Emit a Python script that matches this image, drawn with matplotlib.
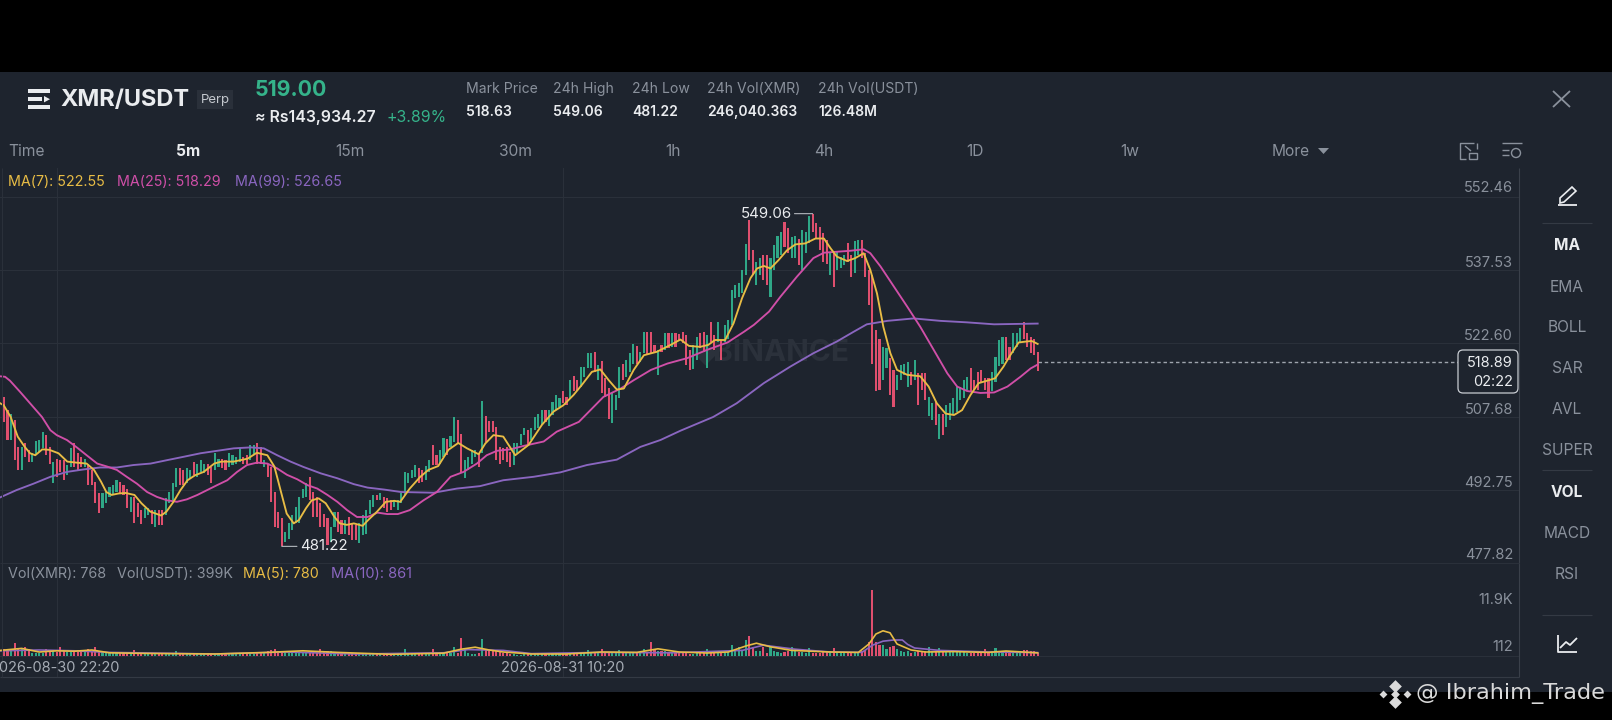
import matplotlib
matplotlib.use("Agg")
import matplotlib.pyplot as plt
from matplotlib.patches import FancyBboxPatch, Polygon, Rectangle
import numpy as np

plt.rcParams["font.family"] = ["Inter", "DejaVu Sans"]

# ==========================
# Candles, 5m
# ==========================

candle_high = [
    511.7, 509.0, 508.3, 507.0, 501.5, 501.5, 502.2, 500.9, 500.2, 502.6,
    502.9, 504.6, 503.9, 501.5, 498.5, 499.1, 498.8, 498.8, 497.8, 501.2,
    502.2, 500.2, 499.5, 499.1, 498.1, 496.8, 494.4, 492.0, 492.0, 492.3,
    493.4, 493.7, 494.7, 494.4, 493.7, 493.0, 491.3, 491.3, 490.0, 488.6,
    489.0, 489.0, 488.6, 488.6, 488.6, 488.6, 491.0, 492.3, 494.1, 497.1,
    497.1, 496.8, 497.1, 496.8, 498.5, 498.1, 498.8, 498.1, 498.1, 497.5,
    500.2, 499.1, 499.1, 498.8, 500.2, 499.8, 499.5, 501.2, 499.5, 499.8,
    501.9, 501.9, 502.2, 501.5, 498.8, 498.1, 497.5, 492.3, 488.3, 486.9,
    484.2, 485.9, 487.6, 489.3, 491.3, 493.0, 494.1, 495.3, 492.3, 491.3,
    490.0, 487.9, 486.9, 485.2, 488.3, 488.3, 486.6, 486.6, 487.2, 485.9,
    485.6, 485.9, 487.6, 488.6, 490.6, 491.7, 491.7, 492.0, 491.3, 491.0,
    490.6, 490.6, 490.6, 492.0, 496.4, 496.1, 496.8, 497.8, 497.1,
    496.8, 497.6, 498.9, 501.9, 499.8, 500.9, 503.4, 503.2, 503.7, 507.5,
    507.0, 504.1, 498.8, 499.5, 500.9, 500.9, 500.2, 510.8, 507.7, 506.8,
    506.8, 505.5, 501.5, 501.2, 501.5, 500.5, 502.2, 502.2, 504.2, 505.3,
    504.9, 505.3, 507.5, 508.3, 509.1, 509.0, 509.0, 510.7, 512.1, 511.4,
    512.8, 511.7, 515.1, 515.9, 515.1, 517.8, 517.8, 520.6, 520.6, 520.9,
    518.2, 519.1, 515.5, 513.6, 512.4, 512.1, 517.8, 518.5, 519.2, 520.6,
    522.5, 522.0, 520.9, 525.0, 525.0, 525.0, 522.3, 521.2, 522.3, 524.8,
    524.8, 524.8, 524.8, 524.6, 524.9, 524.3, 521.2, 522.3, 524.0, 524.8,
    524.9, 524.3, 527.0, 524.3, 527.0, 523.3, 526.4, 527.4,
    533.5, 534.5, 534.9, 537.6, 542.9, 547.8, 541.7, 539.3, 540.0, 540.6,
    540.6, 540.0, 542.7, 544.5, 545.4, 547.3, 546.1, 544.4, 544.5, 544.0,
    545.7, 545.4, 548.6, 549.06, 547.1, 546.4, 545.1, 543.7, 541.3, 541.0,
    541.3, 540.3, 540.6, 543.0, 540.6, 543.4, 543.7, 543.6, 541.0, 537.6,
    536.5, 525.3, 523.6, 521.9, 521.6, 519.6, 517.2, 516.2, 518.2, 518.5,
    518.9, 516.8, 519.2, 516.5, 516.5, 516.5, 511.7, 510.4, 510.7, 508.3,
    508.3, 510.0, 510.4, 511.4, 513.8, 513.8, 515.1, 515.8, 517.5, 515.1,
    516.8, 517.2, 515.5, 515.5, 516.8, 519.9, 523.3, 524.0, 524.0, 521.9,
    524.7, 524.7, 525.7, 527.0, 524.7, 524.0, 523.6, 520.9,
]

candle_low = [
    506.6, 502.9, 502.9, 498.8, 496.8, 496.8, 499.5, 498.5, 498.5, 499.8,
    500.5, 501.2, 499.8, 498.1, 494.1, 495.4, 496.4, 494.7, 495.7, 497.5,
    497.5, 496.8, 497.5, 497.5, 493.7, 493.7, 490.0, 488.1, 489.0, 490.0,
    491.3, 491.7, 492.3, 492.0, 491.7, 489.0, 488.3, 486.0, 487.2, 485.8,
    486.9, 487.6, 485.8, 485.1, 485.6, 485.6, 487.6, 490.1, 490.3, 493.4,
    493.7, 493.7, 494.1, 495.1, 495.8, 495.4, 496.4, 496.1, 495.8, 494.2,
    496.8, 497.5, 497.1, 496.8, 497.5, 497.8, 498.1, 498.5, 498.1, 498.1,
    498.8, 499.8, 498.1, 498.1, 497.5, 495.3, 490.3, 485.2, 484.9, 481.22,
    482.1, 482.8, 484.5, 485.9, 485.9, 491.0, 491.3, 490.6, 487.2, 487.2,
    485.2, 485.2, 481.5, 482.1, 485.2, 484.2, 483.8, 483.8, 483.5, 482.5,
    482.5, 481.8, 483.5, 483.8, 487.9, 489.3, 490.6, 490.6, 489.0, 488.3,
    488.6, 489.3, 488.6, 490.0, 491.7, 494.1, 495.1, 495.4, 494.1,
    494.4, 494.7, 496.4, 497.8, 497.8, 498.1, 499.5, 499.8, 501.5, 502.5,
    502.2, 496.1, 495.1, 496.8, 498.1, 499.5, 497.5, 500.2, 502.5, 504.6,
    504.6, 498.8, 498.0, 498.8, 498.5, 497.5, 497.8, 500.2, 501.9, 503.9,
    501.9, 502.9, 504.9, 505.3, 506.0, 506.6, 505.7, 508.0, 509.0, 509.7,
    510.4, 510.0, 511.4, 512.8, 512.8, 513.8, 515.8, 517.5, 517.5, 516.8,
    515.1, 512.4, 511.7, 507.1, 506.4, 509.0, 511.4, 515.1, 515.8, 516.8,
    518.5, 518.5, 518.9, 520.6, 520.2, 520.6, 520.6, 516.2, 520.9, 521.2,
    521.6, 521.9, 521.9, 523.3, 522.6, 518.2, 517.2, 517.4, 519.2, 521.6,
    520.9, 517.5, 522.9, 521.3, 522.9, 519.2, 522.9, 523.6,
    526.3, 531.8, 532.1, 532.8, 536.5, 539.6, 536.5, 534.5, 536.5, 535.5,
    534.5, 532.1, 537.6, 540.0, 540.6, 542.3, 541.0, 540.0, 540.0, 538.6,
    537.6, 541.0, 543.0, 545.4, 544.0, 541.6, 539.3, 538.9, 536.5, 534.2,
    537.6, 537.9, 538.6, 539.3, 536.2, 536.9, 540.6, 540.0, 536.1, 530.4,
    518.5, 512.8, 513.1, 515.1, 517.5, 512.1, 509.7, 513.1, 515.1, 516.2,
    513.8, 514.1, 515.1, 510.0, 513.1, 511.1, 507.7, 507.0, 506.0, 503.2,
    503.9, 505.6, 507.0, 508.0, 508.7, 511.1, 511.4, 513.1, 512.8, 513.1,
    513.1, 514.5, 513.1, 511.4, 512.8, 514.8, 517.9, 518.5, 519.2, 519.2,
    520.6, 521.9, 522.9, 523.6, 521.9, 520.6, 520.2, 517.0,
]

# r = closed down, g = closed up
candle_side = (
    "rrgrrgrrgg" "ggrrgrrrgg" "rrrgrrrrgg" "gggrrrgrrr" "ggrgrrgggg" "rrggrgggrr"
    "ggrrggggrr" "ggrrgrrrrr" "gggggggrrr" "rrrggrrgrr" "rgggggrgrr" "rgggggggr"
    "rggrrggrgg" "rrggggrgrr" "rrrrrrgggg" "rggggrgggg" "rrgrrggggr" "grrrgggrgg"
    "grggrrrgrg" "rgrrrrrggr" "rgrrgrgg"
    "gggggrrggr" "rggggrrggr" "gggrrrrrgr" "gggrrggrrr" "rrrggrrggg" "grgrrrggrg"
    "rgggggggrr" "rrrrggggrr" "gggrrrrr"
)

# ==========================
# Moving averages (candle position, price)
# ==========================

ma7_pos = [
    -1.1, -0.1, 1.9, 3.9, 5.9, 7.4, 8.9, 10.9, 12.9, 15.5, 18, 20.5, 23.5, 25.6, 27.6, 29.1,
    30.6, 32.6, 34.6, 37.1, 39.1, 41.6, 44.7, 46.2, 48.2, 50.2, 52.2, 54.3, 56.8, 59.8, 61.8,
    65.3, 69.3, 71.9, 74.9, 76.9, 78.9, 80.4, 82.4, 83.9, 85.9, 87.5, 89.5, 91.5, 94, 95.5,
    97.5, 99.5, 102, 103.6, 106.1, 108.6, 111,
    112.7, 115.4, 118.4, 120.7, 123.5, 126.4, 129.2, 131.7, 135, 136.9, 139.2, 142, 145.4,
    149.2, 153, 156.3, 159.1, 162, 164.3, 167.2, 169.6, 172, 174.3, 176.3, 179.1, 182, 185.7,
    189.6,
    192.4, 194.8, 198, 200.3, 202.2, 205.1, 207.5, 209.9, 212.3, 214.2, 216.1, 218, 220.3,
    222.7, 225.1, 227.9, 230.8, 233.2, 235.1, 236.9, 239.8, 242.1, 244.5, 246.4, 248.3, 250.1,
    252.1, 254, 256.9, 260.6, 263, 265.3, 267.8, 270.2, 272.5, 274.9, 277.2, 280.1, 281.9,
    284.3, 286.2, 288.6, 290.9, 292.3, 294,
]
ma7_val = [
    510.4, 510.0, 507.6, 503.6, 501.5, 500.2, 499.8, 501.0, 500.9, 500.2, 498.5, 498.3, 498.1,
    496.8, 494.4, 492.3, 491.7, 492.0, 492.1, 491.7, 490.0, 488.3, 487.5, 488.3, 490.3, 492.7,
    494.7, 495.7, 496.4, 498.1, 498.5, 498.5, 499.1, 500.3, 499.8, 497.5, 492.0, 487.9, 485.9,
    486.6, 489.0, 490.6, 491.0, 490.0, 487.2, 485.9, 485.6, 485.9, 485.4, 486.6, 488.3, 490.3,
    490.5,
    490.3, 493.0, 495.4, 496.8, 497.6, 500.9, 502.3, 501.2, 500.0, 502.2, 503.9, 503.6, 499.8,
    501.9, 506.0, 508.7, 510.0, 512.1, 514.1, 516.8, 517.3, 515.1, 513.2, 513.4, 517.2, 520.2,
    520.9, 522.3,
    523.4, 522.1, 521.9, 522.3, 523.3, 523.3, 526.7, 531.8, 535.9, 537.9, 538.4, 537.9, 539.6,
    541.6, 542.8, 543.0, 544.0, 544.0, 542.0, 540.3, 539.4, 540.0, 541.0, 537.6, 532.8, 526.0,
    520.6, 517.2, 516.2, 515.9, 513.8, 510.4, 508.3, 508.0, 509.0, 512.1, 514.5, 515.1, 515.5,
    517.9, 520.2, 522.8, 523.0, 523.1, 522.5,
]

ma25_pos = [
    -1.1, 0.3, 1.7, 4.6, 7.4, 10.8, 13.2, 15, 17.9, 20.7, 23.5, 26.5, 29.3, 32.1, 34.9, 37.8,
    40.7, 43.5, 46.4, 49.2, 52, 55, 57.8, 60.6, 63.5, 66.3, 69.1, 72, 74.9, 77.7, 80.5, 83.4,
    86.3, 89.1, 92, 94.8, 97.6, 100.4, 103.4, 106.2, 109, 112,
    115.4, 119.3, 123.1, 127, 130.7, 134.5, 137.3, 140.2, 144, 147.8, 153.5, 157.2, 163.5,
    166.8, 170.5, 175.4, 179.1, 184, 188.7, 194.3, 200, 205.8, 210.5, 213.3, 217.6,
    220.8, 225.5, 230.2, 233.2, 236.9, 240.7, 244.5, 246.4, 249.3, 253.1, 256.9, 260.6, 264.5,
    268.3, 271.1, 273.9, 277.7, 281.6, 285.4, 289.1, 292, 294,
]
ma25_val = [
    515.9, 515.8, 515.0, 512.7, 510.4, 507.6, 504.9, 503.9, 502.9, 501.4, 499.8, 498.1, 497.5,
    496.8, 495.4, 494.0, 492.3, 491.3, 490.6, 490.3, 490.8, 491.7, 492.7, 493.7, 494.7, 496.4,
    497.8, 498.3, 498.1, 497.1, 495.8, 494.9, 493.7, 493.0, 491.7, 490.3, 488.6, 487.2, 487.2,
    488.1, 487.8, 487.8,
    488.6, 490.6, 492.3, 495.4, 496.4, 498.1, 499.8, 500.7, 501.0, 501.7, 502.6, 504.6, 506.6,
    509.0, 511.7, 513.4, 515.1, 517.2, 518.5, 519.6, 521.3, 522.8, 525.0, 526.4, 529.1,
    532.1, 536.2, 540.0, 541.1, 541.3, 541.5, 541.8, 541.0, 538.3, 534.2, 530.1, 526.0, 521.2,
    516.5, 513.8, 512.9, 512.5, 512.6, 513.8, 515.8, 517.5, 518.29,
]

ma99_pos = [
    -1.1, 3.6, 8.4, 13.2, 17.9, 22.6, 27.3, 32.1, 36.8, 41.7, 46.4, 51.2, 55.9, 60.6, 65.3,
    70.2, 73.9, 77.7, 81.5, 85.2, 90.1, 94.8, 99.5, 103.4, 108.1, 112.9, 122.2, 128.8, 135.4,
    142, 150.6, 158.2, 165.8, 174.3, 181, 186.7, 192.4, 201.7, 208.4, 216.1, 223.7, 230.2,
    236.9, 241.7, 245.4, 251.2, 258.7, 266.4, 273.9, 281.6, 294,
]
ma99_val = [
    491.2, 492.7, 494.0, 495.4, 496.4, 496.9, 497.3, 497.3, 497.8, 498.1, 498.8, 499.5, 500.2,
    500.7, 501.2, 501.4, 501.2, 499.8, 498.5, 497.4, 496.1, 495.1, 493.9, 493.2, 492.8, 492.3,
    492.15, 493.0, 493.5, 494.7, 495.4, 496.3, 497.8, 498.9, 501.5, 502.9, 504.8, 507.6, 510.4,
    514.5, 517.9, 520.6, 523.0, 525.0, 526.5, 527.2, 527.7, 527.2, 526.9, 526.5, 526.65,
]

# ==========================
# Volume (XMR)
# ==========================

volume = [
    1660, 1490, 1160, 3150, 1990, 1660, 2160, 1830, 830, 830,
    830, 830, 1830, 1330, 1160, 1000, 2160, 1160, 1000, 1000,
    1000, 1000, 1160, 1160, 1660, 1160, 2320, 1330, 1160, 830,
    660, 660, 830, 660, 660, 830, 830, 1490, 830, 830,
    660, 660, 660, 830, 830, 830, 830, 830, 830, 1160,
    830, 830, 830, 660, 660, 830, 660, 660, 500, 500,
    500, 500, 500, 500, 500, 500, 500, 500, 660, 660,
    500, 500, 660, 830, 1000, 1160, 1490, 1830, 1160, 1330,
    1000, 830, 830, 830, 830, 830, 830, 1000, 1000, 830,
    1830, 1160, 1160, 1160, 830, 1000, 660, 660, 830, 660,
    660, 660, 660, 500, 660, 660, 500, 500, 330, 330,
    330, 330, 500, 500, 1830, 660, 660, 660, 660, 660,
    660, 660, 1660, 660, 660, 660, 660, 660, 2160, 660,
    4480, 1830, 660, 500, 500, 660, 4320, 1830, 1160, 1160,
    1160, 1160, 830, 660, 500, 500, 330, 330, 500, 500,
    500, 500, 660, 660, 660, 660, 500, 660, 500, 500,
    500, 500, 500, 500, 660, 660, 1490, 660, 830, 660,
    1830, 830, 830, 1000, 1000, 1490, 660, 660, 660, 830,
    830, 830, 1830, 1000, 3490, 1660, 1160, 1330, 1250, 830,
    830, 660, 660, 660, 660, 500, 500, 660, 660, 660,
    1660, 660, 660, 830, 830, 830, 1000, 2820, 1330, 2320,
    1490, 3980, 4980, 2160, 1330, 1160, 2160, 830, 2160, 1160,
    1000, 830, 1000, 1160, 2160, 1160, 1000, 1000, 830, 2080,
    830, 830, 830, 1160, 1160, 1160, 1990, 1000, 1000, 830,
    830, 660, 660, 660, 1330, 1490, 3490, 16400, 3490, 2820,
    2820, 1830, 2320, 2490, 1660, 1160, 1000, 1160, 830, 1000,
    1160, 1000, 1160, 2320, 1330, 1160, 1990, 1330, 1160, 1000,
    1000, 1160, 1000, 1160, 830, 830, 660, 660, 830, 1660,
    1000, 1160, 1990, 1160, 1330, 1330, 1330, 1330, 1160, 1330,
    1490, 1490, 1330, 1330, 768,
]

vol_ma5_pos = [
    -1, 5, 10, 15, 20, 25, 30, 40, 60, 75, 85, 95, 110, 125, 130, 134, 138, 142, 150, 160,
    170, 180, 186, 192, 200, 206, 211, 214, 218, 224, 235, 243, 246, 248, 250, 252, 254,
    258, 262, 270, 280, 285, 294,
]
vol_ma5_val = [
    1400, 1900, 1000, 1300, 1200, 1500, 800, 650, 500, 900, 1300, 900, 420, 700, 1700, 2200,
    1500, 1000, 500, 500, 1000, 900, 1800, 1000, 750, 1000, 2500, 3200, 2300, 1400, 1000,
    900, 3000, 5500, 6300, 5800, 3000, 1500, 1000, 1100, 900, 1250, 780,
]
vol_ma10_pos = [
    -1, 10, 20, 30, 60, 80, 100, 125, 132, 142, 150, 170, 190, 210, 216, 225, 235, 244, 247,
    250, 253, 255.5, 257, 259, 266, 280, 294,
]
vol_ma10_val = [
    1300, 1500, 1300, 900, 500, 1000, 500, 800, 1600, 1400, 600, 900, 800, 1400, 2700, 1700,
    1000, 900, 2700, 3700, 4000, 4000, 2900, 2000, 1400, 1000, 861,
]

price_ticks = [552.46, 537.53, 522.60, 507.68, 492.75, 477.82]
last_price = 518.89
date_pos = [15, 159]
date_labels = ["2026-08-30 22:20", "2026-08-31 10:20"]

timeframes = ["Time", "5m", "15m", "30m", "1h", "4h", "1D", "1w"]
indicators = ["MA", "EMA", "BOLL", "SAR", "AVL", "SUPER", "VOL", "MACD", "RSI"]
stat_titles = ["Mark Price", "24h High", "24h Low", "24h Vol(XMR)", "24h Vol(USDT)"]
stat_values = ["518.63", "549.06", "481.22", "246,040.363", "126.48M"]

# ==========================
# Colours
# ==========================

BG = "#1E242E"
GRID = "#2A303A"
GREEN = "#2FA787"
RED = "#DF4F6E"
YELLOW = "#E8BC45"
PINK = "#D04FA8"
PURPLE = "#8A66C0"
GREY = "#8A919C"
WHITE = "#EAECEF"

W, H = 1612, 720
fig = plt.figure(figsize=(W / 100, H / 100), dpi=100, facecolor="black")


def panel(x0, y0, x1, y1):
    return fig.add_axes([x0 / W, 1 - y1 / H, (x1 - x0) / W, (y1 - y0) / H])


# pixel helper axes for the app chrome
bg = panel(0, 0, W, H)
bg.set_xlim(0, W)
bg.set_ylim(H, 0)
bg.axis("off")
bg.add_patch(Rectangle((0, 72), W, 620, facecolor=BG, edgecolor="none"))

# ==========================
# Price panel
# ==========================

ax = panel(0, 168, 1519, 563)
ax.patch.set_alpha(0)
ax.set_xlim(-1.14, 430.9)
ax.set_ylim(477.82, 558.38)

pos = np.arange(len(candle_high))
high = np.array(candle_high)
low = np.array(candle_low)
colors = [GREEN if s == "g" else RED for s in candle_side]

ax.set_yticks(price_ticks)
ax.set_xticks(date_pos)
ax.grid(True, color=GRID, linewidth=0.8)
ax.set_axisbelow(True)
ax.tick_params(length=0, labelleft=False, labelbottom=False)
for s in ax.spines.values():
    s.set_visible(False)

ax.text(221, 520.6, "BINANCE", color="#2B313B", fontsize=21.5, fontweight="bold",
        ha="center", va="center", zorder=1)
ax.scatter([199.4], [520.6], marker="D", s=150, color="#2B313B", linewidths=0, zorder=1)
ax.bar(pos, high - low, bottom=low, width=0.6, color=colors, zorder=2)
ax.plot(ma99_pos, ma99_val, color=PURPLE, lw=1.35, zorder=3)
ax.plot(ma25_pos, ma25_val, color=PINK, lw=1.35, zorder=4)
ax.plot(ma7_pos, ma7_val, color=YELLOW, lw=1.35, zorder=5)
ax.plot([pos[-1], 414], [last_price, last_price], color="#9EA4AD", lw=1.0, ls=(0, (2.5, 2)), zorder=5)

i_hi = int(np.argmax(high))
i_lo = int(np.argmin(low))
line_style = dict(arrowstyle="-", lw=0.7, color="#C8CCD2", shrinkA=0, shrinkB=0)
ax.annotate("549.06", xy=(i_hi, high[i_hi]), xytext=(-21, 0), textcoords="offset pixels",
            ha="right", va="center", color=WHITE, fontsize=10.8, arrowprops=line_style, zorder=6)
ax.annotate("481.22", xy=(i_lo, low[i_lo]), xytext=(18, 0), textcoords="offset pixels",
            ha="left", va="center", color=WHITE, fontsize=10.8, arrowprops=line_style, zorder=6)

# ==========================
# Volume panel
# ==========================

vx = panel(0, 563, 1519, 677)
vx.patch.set_alpha(0)
vx.set_xlim(ax.get_xlim())
vx.set_ylim(-5250, 23250)
vx.set_yticks([112])
vx.set_xticks(date_pos)
vx.grid(True, color=GRID, linewidth=0.8)
vx.set_axisbelow(True)
vx.tick_params(length=0, labelleft=False, labelbottom=False)
for s in vx.spines.values():
    s.set_visible(False)

vx.bar(pos, volume, width=0.6, color=colors, zorder=2)
vx.plot(vol_ma10_pos, vol_ma10_val, color=PURPLE, lw=1.2, zorder=3)
vx.plot(vol_ma5_pos, vol_ma5_val, color=YELLOW, lw=1.2, zorder=4)

# ==========================
# App chrome, in pixels
# ==========================

ui = panel(0, 0, W, H)
ui.set_xlim(0, W)
ui.set_ylim(H, 0)
ui.axis("off")
ui.patch.set_alpha(0)


def label(x, y, s, color=GREY, size=10.5, ha="left", weight="normal", **kw):
    ui.text(x, y, s, color=color, fontsize=size, ha=ha, va="center", fontweight=weight, **kw)


def line(xs, ys, color=GREY, lw=1.0):
    ui.plot(xs, ys, color=color, lw=lw, solid_capstyle="butt")


# frame of the chart
line([1519, 1519], [168, 677], "#3A404A", 0.8)
line([0, 1519], [563, 563], GRID, 0.8)
line([0, 1519], [677, 677], "#343A44", 0.8)
line([1.5, 1.5], [168, 677], GRID, 0.8)

# header
for y0, x1 in [(89, 50), (97, 42), (105, 50)]:
    ui.add_patch(Rectangle((27.5, y0), x1 - 27.5, 4.4, facecolor=WHITE, edgecolor="none"))
ui.add_patch(Polygon([[44, 96], [50, 99.2], [44, 102.4]], facecolor=WHITE, edgecolor="none"))
label(60, 100, "XMR/USDT", WHITE, 17, weight="bold")
ui.add_patch(Rectangle((197, 90), 36, 19, facecolor="#2A303A", edgecolor="none"))
label(215, 99.5, "Perp", "#C4C8CE", 9.5, ha="center")
label(255, 89.5, "519.00", "#35B38A", 15.3, weight="bold")
label(255, 117.5, "≈ Rs143,934.27", WHITE, 11.4, weight="semibold")
label(386, 117.5, "+3.89%", "#35B38A", 11.4)

stat_x = [466, 553, 632, 707, 818]
for x, t, v in zip(stat_x, stat_titles, stat_values):
    label(x, 89, t, GREY, 10.1)
    label(x, 112, v, WHITE, 10, weight="semibold")

# close cross
line([1553, 1570], [91, 107], GREY, 1.3)
line([1553, 1570], [107, 91], GREY, 1.3)

# timeframe row
tf_x = [8, 188, 350, 515, 673, 824, 975, 1130]
for x, t in zip(tf_x, timeframes):
    if t == "Time":
        label(x, 152, t, GREY, 11.2)
    elif t == "5m":
        label(x, 152, t, WHITE, 11.2, ha="center", weight="bold")
    else:
        label(x, 152, t, GREY, 11.2, ha="center")
label(1272, 152, "More", GREY, 11.2)
ui.add_patch(Polygon([[1318, 148], [1329, 148], [1323.5, 154]], facecolor=GREY, edgecolor="none"))

# two small toolbar icons
line([1474, 1460, 1460, 1466], [143, 143, 159, 159], GREY, 1.0)
line([1477, 1477], [143, 149], GREY, 1.0)
ui.add_patch(Rectangle((1469, 153), 8, 6, facecolor="none", edgecolor=GREY, lw=1.0))
line([1465, 1471], [146, 151], GREY, 1.0)
line([1502, 1522], [143, 143], GREY, 1.0)
line([1502, 1509], [150, 150], GREY, 1.0)
line([1502, 1509], [155, 155], GREY, 1.0)
ui.add_patch(plt.Circle((1516, 153), 4.5, facecolor="none", edgecolor=GREY, lw=1.0))

# legends
label(8, 182, "MA(7): 522.55", YELLOW, 10.3)
label(117, 182, "MA(25): 518.29", PINK, 10.3)
label(235, 182, "MA(99): 526.65", PURPLE, 10.3)
label(8, 574.5, "Vol(XMR): 768", GREY, 10.3)
label(117, 574.5, "Vol(USDT): 399K", GREY, 10.3)
label(243, 574.5, "MA(5): 780", YELLOW, 10.3)
label(331, 574.5, "MA(10): 861", PURPLE, 10.5)

# axis labels, they sit above their grid lines
tick_y = [188.5, 263, 336, 409.5, 483, 555]
for y, p in zip(tick_y, price_ticks):
    label(1513, y, f"{p:.2f}", GREY, 10.5, ha="right")
label(1513, 600, "11.9K", GREY, 10.5, ha="right")
label(1513, 647, "112", GREY, 10.5, ha="right")
for x, t in zip([55, 563], date_labels):
    label(x, 668.5, t, "#A6ACB5", 10.5, ha="center")

# last price box
ui.add_patch(FancyBboxPatch((1458, 350), 60, 43, boxstyle="round,pad=0,rounding_size=5",
                            mutation_aspect=1, facecolor=BG, edgecolor="#C8CCD2", lw=0.9))
label(1513, 363, f"{last_price:.2f}", WHITE, 10.5, ha="right")
label(1513, 382, "02:22", WHITE, 10.5, ha="right")

# right rail
rail_y = [245.5, 287, 327.5, 368.5, 410, 450.5, 492.5, 533, 574.5]
for y, t in zip(rail_y, indicators):
    if t in ("MA", "VOL"):
        label(1567, y, t, WHITE, 11.2, ha="center", weight="bold")
    else:
        label(1567, y, t, GREY, 11.2, ha="center")
for y in [223, 470, 615]:
    line([1542, 1592], [y, y], "#343A44", 0.8)

# pencil and chart icons
ui.add_patch(Polygon([[1560, 198], [1572, 187], [1576, 191], [1564, 202], [1560, 203]],
                     facecolor="none", edgecolor=WHITE, lw=1.2))
line([1558, 1577], [205, 205], WHITE, 1.3)
line([1558, 1558, 1577], [635, 652, 652], WHITE, 1.3)
line([1560, 1566, 1570, 1577], [648, 642, 645, 638], WHITE, 1.3)

# footer watermark
for x, y, s in [(1395, 686, 42), (1395, 702, 42), (1383, 694, 16), (1407, 694, 16), (1395, 694, 20)]:
    ui.scatter([x], [y], marker="D", s=s, color="#DADADA", linewidths=0)
label(1416, 694, "@ Ibrahim_Trade", "#DADADA", 16.2, family="DejaVu Sans")

plt.savefig("out.png", dpi=100, facecolor=fig.get_facecolor())
